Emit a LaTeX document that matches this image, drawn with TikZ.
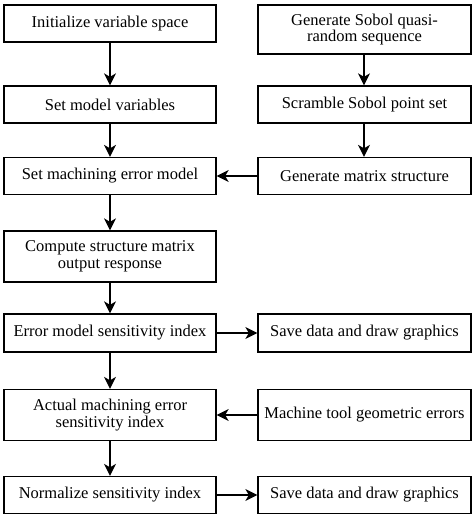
\documentclass[tikz,border=0pt]{standalone}
\usepackage{fontspec}
\setmainfont{Liberation Serif}
\usetikzlibrary{arrows.meta}
\begin{document}
\begin{tikzpicture}[x=1pt,y=-1pt,
  box/.style={draw,line width=1.3pt,align=center,inner sep=0pt,font=\fontsize{16.5}{16.5}\selectfont},
  lbox/.style={box,minimum width=212pt},
  rbox/.style={box,minimum width=213pt},
  arr/.style={line width=1.3pt,-{Stealth[length=12pt,width=12pt,inset=3.5pt]}}]
\useasboundingbox (0,0) rectangle (474,518);
\node[lbox,minimum height=37pt] (a1) at (110,23.5) {Initialize variable space};
\node[rbox,minimum height=49pt] (b1) at (364.5,29.5) {Generate Sobol quasi-\\random sequence};
\node[lbox,minimum height=37pt] (a2) at (110,104.5) {Set model variables};
\node[rbox,minimum height=37pt] (b2) at (364.5,104.5) {Scramble Sobol point set};
\node[lbox,minimum height=37pt] (a3) at (110,176) {Set machining error model};
\node[rbox,minimum height=37pt] (b3) at (364.5,176) {Generate matrix structure};
\node[lbox,minimum height=51pt] (a4) at (110,256.5) {Compute structure matrix\\output response};
\node[lbox,minimum height=38pt] (a5) at (110,333) {Error model sensitivity index};
\node[rbox,minimum height=38pt] (b5) at (364.5,333) {Save data and draw graphics};
\node[lbox,minimum height=51pt] (a6) at (110,415) {Actual machining error\\sensitivity index};
\node[rbox,minimum height=51pt] (b6) at (364.5,415) {Machine tool geometric errors};
\node[lbox,minimum height=37pt] (a7) at (110,495) {Normalize sensitivity index};
\node[rbox,minimum height=37pt] (b7) at (364.5,495) {Save data and draw graphics};
\draw[arr] (a1) -- (a2);
\draw[arr] (a2) -- (a3);
\draw[arr] (a3) -- (a4);
\draw[arr] (a4) -- (a5);
\draw[arr] (a5) -- (a6);
\draw[arr] (a6) -- (a7);
\draw[arr] (b1.south -| 364,0) -- (b2.north -| 364,0);
\draw[arr] (b2.south -| 364,0) -- (b3.north -| 364,0);
\draw[arr] (b3) -- (a3);
\draw[arr] (a5) -- (b5);
\draw[arr] (b6) -- (a6);
\draw[arr] (a7) -- (b7);
\end{tikzpicture}
\end{document}
